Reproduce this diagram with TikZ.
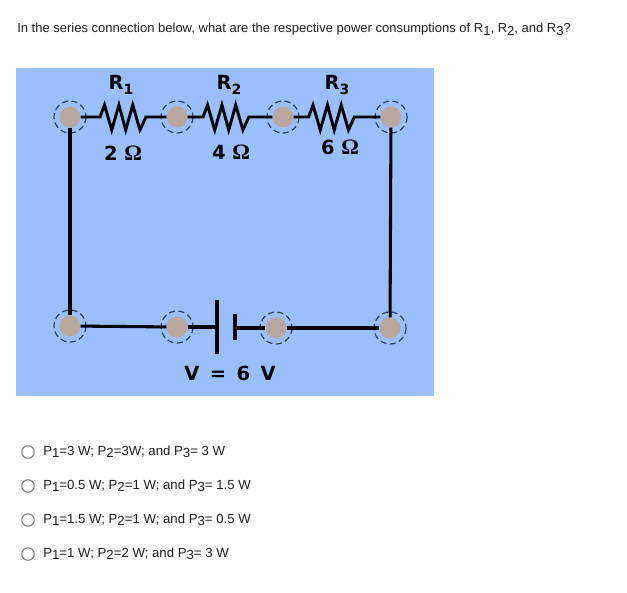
\documentclass[tikz,border=0pt]{standalone}
\usepackage{fontspec}
\setmainfont{Liberation Sans}
\newfontfamily\boldlab{DejaVu Sans Bold}
\newfontfamily\serifom{Liberation Serif Bold}
\newcommand{\lowsub}[1]{\raisebox{-0.42ex}{#1}}
\newcommand{\Qtxt}{\fontsize{9.75pt}{12pt}\selectfont}
\newcommand{\Otxt}{\fontsize{9.9pt}{12pt}\selectfont}
\newcommand{\Lab}{\fontsize{14.6pt}{16pt}\boldlab\selectfont}
\newcommand{\Rsub}[1]{\lowsub{\fontsize{10.5pt}{12pt}\boldlab\selectfont #1}}
\newcommand{\Om}{{\fontsize{16.5pt}{17pt}\serifom\selectfont Ω}}
\definecolor{panel}{HTML}{99BFFF}
\definecolor{termc}{HTML}{B8A8A0}
\definecolor{ringc}{HTML}{2F4360}
\definecolor{txtc}{HTML}{202020}
\definecolor{radc}{HTML}{767676}
\tikzset{
 x=0.75pt,y=-0.75pt,
 term/.style={circle,fill=termc,draw=none,minimum size=15.8pt,inner sep=0pt,outer sep=0pt},
 ring/.style={draw=ringc,line width=0.9pt,dash pattern=on 4.6pt off 2.6pt},
 wire/.style={draw=black,line width=2.3pt},
 res/.style={draw=black,line width=2.2pt,line join=miter,miter limit=5},
 plate/.style={draw=black,line width=3pt},
 lab/.style={inner sep=0pt,text=black},
 qtext/.style={inner sep=0pt,anchor=base west,text=txtc},
 radio/.style={circle,draw=radc,line width=0.75pt,fill=white,minimum size=9.4pt,inner sep=0pt}
}
\begin{document}
\begin{tikzpicture}
\useasboundingbox (0,0) rectangle (627,592);
\fill[white] (0,0) rectangle (627,592);
\fill[panel] (16,68) rectangle (434,396);
\node[qtext,font=\Qtxt] (q) at (17,33) {In the series connection below, what are the respective power consumptions of R\lowsub{1}, R\lowsub{2}, and R\lowsub{3}?};
% terminals
\node[term] (a) at (70,117) {};
\node[term] (b) at (177,117) {};
\node[term] (c) at (283,117) {};
\node[term] (d) at (391,117) {};
\node[term] (e) at (70,326) {};
\node[term] (f) at (177,327) {};
\node[term] (g) at (276,328) {};
\node[term] (h) at (390,328) {};
\foreach \n in {a,b,c,d,e,f,g,h}{\draw[ring] (\n) circle (16);}
% resistors
\draw[res] (a.east) -- ++(19.5,0) -- ++(4.5,-12) -- ++(7.2,25) -- ++(7.2,-25) -- ++(6.8,25) -- ++(7,-25) -- ++(7.2,25) -- ++(6,-13) -- (b.west);
\draw[res] (b.east) -- ++(15.5,0) -- ++(4.5,-12) -- ++(7.2,25) -- ++(7.2,-25) -- ++(6.8,25) -- ++(7,-25) -- ++(7.2,25) -- ++(6,-13) -- (c.west);
\draw[res] (c.east) -- ++(15,0) -- ++(4.5,-12) -- ++(7.2,25) -- ++(7.2,-25) -- ++(6.8,25) -- ++(7,-25) -- ++(7.2,25) -- ++(6,-13) -- (d.west);
% wires
\draw[wire] (a) -- (e);
\draw[wire] (d) -- (h);
\draw[wire] (e) -- (f);
\draw[wire] (g) -- (h);
% battery
\coordinate (p1) at (217,327);
\coordinate (p2) at (235,328);
\draw[wire] (f) -- (p1);
\draw[wire] (p2) -- (g);
\draw[plate] (217,300) -- (217,354);
\draw[plate] (235,314) -- (235,340);
% labels
\node[lab] (r1) at (121,85) {\Lab R\Rsub{1}};
\node[lab] (r2) at (229,85) {\Lab R\Rsub{2}};
\node[lab] (r3) at (337,85) {\Lab R\Rsub{3}};
\node[lab] (v1) at (123,153) {\Lab 2 \Om};
\node[lab] (v2) at (231,152) {\Lab 4 \Om};
\node[lab] (v3) at (340,147) {\Lab 6 \Om};
\node[lab] (vv) at (230,373) {\Lab V\hspace{2.7pt} = \hspace{2.7pt}6\hspace{2.7pt} V};
% options
\foreach \yy/\tx [count=\i] in {
 455/{P\lowsub{1}=3 W; P\lowsub{2}=3W; and P\lowsub{3}= 3 W},
 489/{P\lowsub{1}=0.5 W; P\lowsub{2}=1 W; and P\lowsub{3}= 1.5 W},
 523/{P\lowsub{1}=1.5 W; P\lowsub{2}=1 W; and P\lowsub{3}= 0.5 W},
 557/{P\lowsub{1}=1 W; P\lowsub{2}=2 W; and P\lowsub{3}= 3 W}}{
 \node[radio] (rad\i) at (28,{\yy-3}) {};
 \node[qtext,font=\Otxt] (opt\i) at (43,\yy) {\tx};
}
\end{tikzpicture}
\end{document}
